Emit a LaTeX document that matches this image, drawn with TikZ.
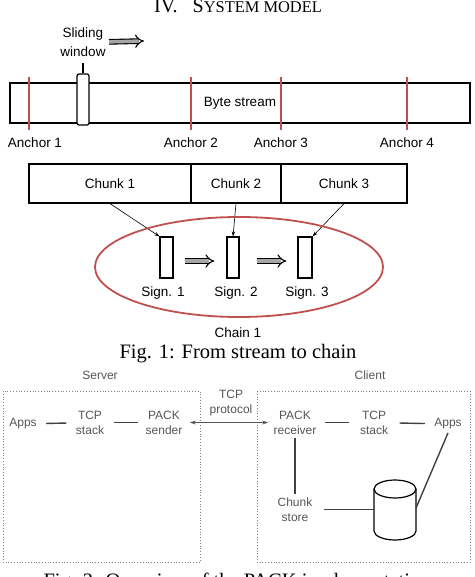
\documentclass[tikz,border=0pt]{standalone}
\usepackage{fontspec}
\setmainfont{Liberation Serif}
\setsansfont{Liberation Sans}
\usetikzlibrary{arrows.meta}
\definecolor{anchorred}{RGB}{192,80,77}
\definecolor{figgray}{RGB}{85,85,85}

\begin{document}
\begin{tikzpicture}[x=1pt,y=-1pt,
		lbl/.style={font=\sffamily\fontsize{13.5}{19}\selectfont, align=center},
		fignode/.style={font=\sffamily\fontsize{12}{15}\selectfont, text=figgray, align=center},
		box/.style={draw, line width=1.2pt, inner sep=0pt},
		fat/.style={draw=black, line width=1.1pt, double=gray!70, double distance=3.5pt, -{Implies}},
		hash/.style={-{Stealth[length=5pt,width=3.5pt]}, line width=0.6pt},
		link/.style={draw=black!75, line width=1.4pt}]
		\useasboundingbox (0,0) rectangle (474,577);

		% Section title
		\node[anchor=base, font=\fontsize{20}{24}\selectfont] (title) at (238,13) {IV.\hspace{0.75em}S{\fontsize{16.4}{20}\selectfont YSTEM MODEL}};

		% Byte stream and sliding window
		\node[box, line width=1.6pt, minimum width=460, minimum height=40, lbl] (stream) at (240,103) {Byte stream};
		\node[box, fill=white, minimum width=12, minimum height=51, rounded corners=2pt] (window) at (83,99.5) {};
		\coordinate (stem) at (83,63);
		\draw[line width=1.2pt] (window.north) -- (stem);
		\node[lbl] (slide) at (83,42.5) {Sliding\\window};
		\coordinate (slidedir) at (144,41);
		\draw[fat] (slide) -- (slidedir);

		% Anchors
		\foreach \x/\lx/\n in {29/35/1, 191/191/2, 281/281/3, 407/407/4} {
			\draw[anchorred, line width=1.7pt] (\x,77) -- (\x,130);
			\node[lbl] (anchor\n) at (\lx,143) {Anchor \n};
		}

		% Chunks
		\node[box, minimum width=162, minimum height=39, lbl] (chunk1) at (110,183.5) {Chunk 1};
		\node[box, minimum width=90, minimum height=39, lbl] (chunk2) at (236,183.5) {Chunk 2};
		\node[box, minimum width=126, minimum height=39, lbl] (chunk3) at (344,183.5) {Chunk 3};

		% Signatures
		\node[box, minimum width=13, minimum height=41] (sign1) at (166.5,257.5) {};
		\node[box, minimum width=12, minimum height=41] (sign2) at (233,257.5) {};
		\node[box, minimum width=14, minimum height=41] (sign3) at (305,257.5) {};
		\node[lbl] (slabel1) at (163,293) {Sign. 1};
		\node[lbl] (slabel2) at (236,293) {Sign. 2};
		\node[lbl] (slabel3) at (307,293) {Sign. 3};

		\draw[hash] (chunk1.south) -- (sign1.north west);
		\draw[hash] (chunk2.south) -- (sign2.north);
		\draw[hash] (chunk3.south) -- (sign3.north east);
		\draw[fat, shorten <=11pt, shorten >=12pt] ([yshift=-3.5pt]sign1.east) -- ([yshift=-3.5pt]sign2.west);
		\draw[fat, shorten <=17pt, shorten >=11pt] ([yshift=-3.5pt]sign2.east) -- ([yshift=-3.5pt]sign3.west);

		% Chain
		\draw[anchorred, line width=1.8pt] (239,267) ellipse (144 and 50);
		\node[lbl] (chain) at (238,333) {Chain 1};
		\node[anchor=base, font=\fontsize{20.5}{24}\selectfont] (cap1) at (238,358) {Fig. 1: From stream to chain};

		% Server and client
		\node[fignode] (server) at (100,375) {Server};
		\node[fignode] (client) at (370,375) {Client};
		\draw[dotted, gray, line width=0.8pt] (3,391) rectangle (200,562);
		\draw[dotted, gray, line width=0.8pt] (257,391) rectangle (470,562);
		\node[fignode] (tcpproto) at (231,403) {TCP\\protocol};

		\node[fignode] (apps1) at (23,424) {Apps};
		\node[fignode] (stack1) at (90,422.5) {TCP\\stack};
		\node[fignode] (sender) at (164,422.5) {PACK\\sender};
		\node[fignode] (receiver) at (295,422.5) {PACK\\receiver};
		\node[fignode] (stack2) at (374,422.5) {TCP\\stack};
		\node[fignode] (apps2) at (448,424) {Apps};
		\node[fignode] (store) at (295,509.5) {Chunk\\store};

		\draw[link, shorten <=6pt, shorten >=6pt] (apps1) -- (stack1);
		\draw[link, shorten <=6pt, shorten >=4pt] (stack1) -- (sender);
		\draw[link, shorten <=5pt, shorten >=7pt] (receiver) -- (stack2);
		\draw[link, shorten <=8pt, shorten >=6pt] (stack2) -- (apps2);
		\draw[figgray, line width=1pt, {Stealth[length=6pt,width=4pt]}-{Stealth[length=6pt,width=4pt]}, shorten <=4pt, shorten >=2pt] (sender) -- (receiver);
		\draw[link] (receiver) -- (store);

		% Cylinder
		\draw[line width=1.2pt] (395,489) ellipse (21 and 9);
		\draw[line width=1.2pt] (374,489) -- (374,531) arc[start angle=180, end angle=0, x radius=21, y radius=9] -- (416,489);
		\coordinate (cylL) at (374,509.5);
		\coordinate (cylR) at (416,508);
		\draw[link, shorten <=8pt] (store) -- (cylL);
		\draw[link] (apps2.south) -- (cylR);

		\node[anchor=base, font=\fontsize{20.5}{24}\selectfont] (cap2) at (237,587) {Fig. 2: Overview of the PACK implementation};
	\end{tikzpicture}
\end{document}
